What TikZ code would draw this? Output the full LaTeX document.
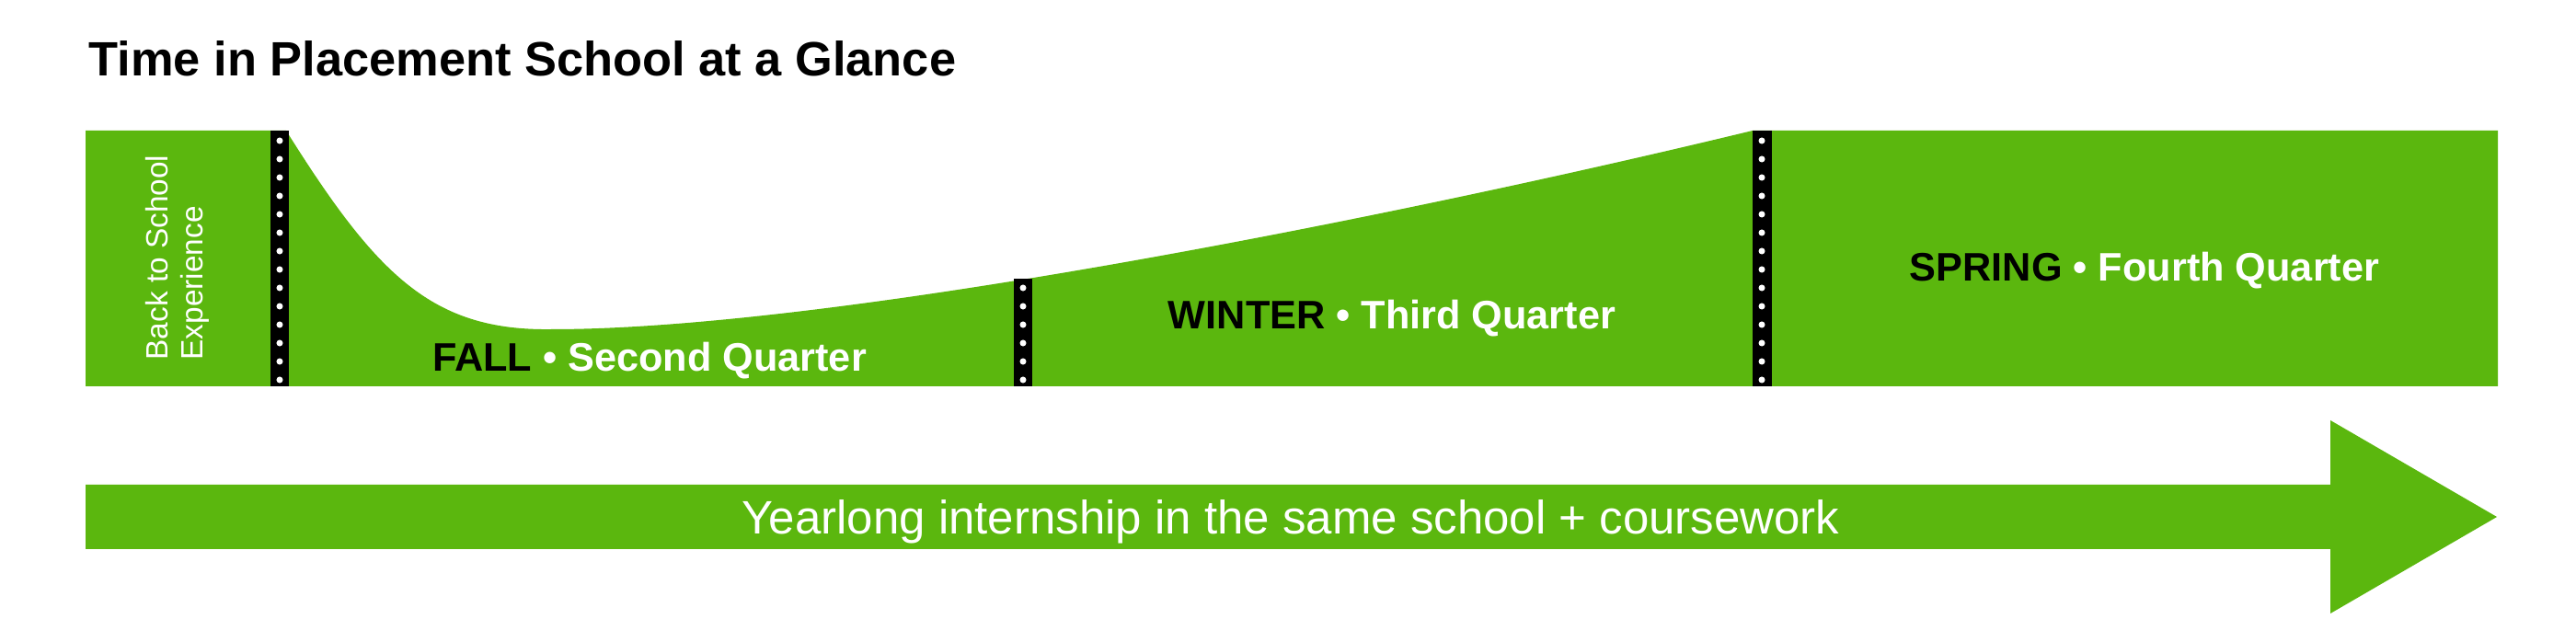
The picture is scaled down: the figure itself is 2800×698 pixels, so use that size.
\documentclass[tikz,border=0pt]{standalone}
\usepackage{fontspec}
\setmainfont{Liberation Sans}
\usetikzlibrary{calc}

\definecolor{leafgreen}{RGB}{91,183,14}

\begin{document}
\begin{tikzpicture}[x=0.01cm,y=-0.01cm,
  season/.style={anchor=base,text=white,font=\bfseries\fontsize{12.3}{14}\selectfont},
  divider/.style={fill=black},
  hole/.style={fill=white}]
\fill[white] (0,0) rectangle (2800,698);
\useasboundingbox (0,0) rectangle (2800,698);
\node[anchor=base west,inner sep=0pt,font=\bfseries\fontsize{14.9}{18}\selectfont] (title) at (96,83) {Time in Placement School at a Glance};
% green band with the dip after back to school
\fill[leafgreen] (93,142) -- (311,142) .. controls (410,300) and (470,360) .. (600,358)
  .. controls (900,358) and (1500,240) .. (1905,142) -- (2715,142) -- (2715,420) -- (93,420) -- cycle;
% dividers
\fill[divider] (294,142) rectangle (314,420);
\fill[divider] (1102,303) rectangle (1122,420);
\fill[divider] (1905,142) rectangle (1926,420);
\foreach \y in {153,173,...,413} {
  \fill[hole] (304,\y) circle[radius=1pt];
  \fill[hole] (1915,\y) circle[radius=1pt];
}
\foreach \y in {313,333,...,413}
  \fill[hole] (1112,\y) circle[radius=1pt];
\node[rotate=90,align=left,text=white,font=\fontsize{9.5}{10.8}\selectfont] (bts) at (193,280) {Back to School\\Experience};
\node[season] (fall) at (706,404) {{\color{black}FALL} \textbullet{} Second Quarter};
\node[season] (winter) at (1513,358) {{\color{black}WINTER} \textbullet{} Third Quarter};
\node[season] (spring) at (2331,306) {{\color{black}SPRING} \textbullet{} Fourth Quarter};
% yearlong arrow
\fill[leafgreen] (93,527) -- (2533,527) -- (2533,457) -- (2714,562) -- (2533,667) -- (2533,597) -- (93,597) -- cycle;
\node[anchor=base,text=white,font=\fontsize{14.5}{17}\selectfont] (yearlong) at (1403,581) {Yearlong internship in the same school + coursework};
\end{tikzpicture}
\end{document}
